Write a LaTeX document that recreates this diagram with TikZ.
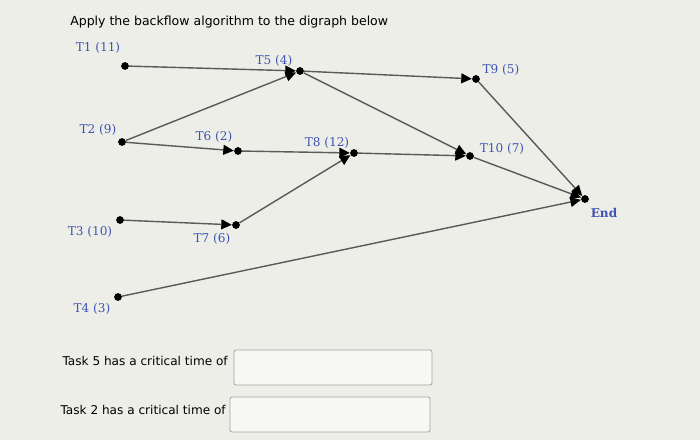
\documentclass[tikz,border=0pt]{standalone}
\usepackage{fontspec}
\setmainfont{DejaVu Sans}
\newfontfamily\labfont{DejaVu Serif}
\usetikzlibrary{arrows.meta}
\definecolor{screenbg}{RGB}{236,238,231}
\definecolor{labblue}{RGB}{62,84,178}
\definecolor{edgegray}{RGB}{90,90,90}

\tikzset{
  task/.style={circle,fill=black,inner sep=0pt,minimum size=5.5pt},
  tasklabel/.style={text=labblue,font=\labfont\fontsize{8.6}{10}\selectfont,inner sep=0pt},
  flow/.style={draw=edgegray,line width=1pt,-{Triangle[length=7.5pt,width=7pt,color=black]}},
  answerbox/.style={draw=gray!70,fill=white!60!screenbg,rounded corners=1.5pt,line width=0.6pt},
  prompt/.style={font=\fontsize{8.6}{10}\selectfont,anchor=east,inner sep=0pt}
}

\begin{document}
\begin{tikzpicture}[x={(0.025cm,0)},y={(0,-0.025cm)}]
  \fill[screenbg] (0,0) rectangle (700,440);
  \useasboundingbox (0,0) rectangle (700,440);
  \node[anchor=west,inner sep=0pt,font=\fontsize{8.9}{10}\selectfont] (title) at (70,22)
    {Apply the backflow algorithm to the digraph below};
  % tasks
  \node[task] (t1)  at (125,66)  {};
  \node[task] (t5)  at (300,71)  {};
  \node[task] (t9)  at (476,79)  {};
  \node[task] (t2)  at (122,142) {};
  \node[task] (t6)  at (238,151) {};
  \node[task] (t8)  at (354,153) {};
  \node[task] (t10) at (470,156) {};
  \node[task] (end) at (585,199) {};
  \node[task] (t3)  at (120,220) {};
  \node[task] (t7)  at (236,225) {};
  \node[task] (t4)  at (118,297) {};
  % labels
  \node[tasklabel] (lt1)  at (98,48)   {T1 (11)};
  \node[tasklabel] (lt5)  at (274,61)  {T5 (4)};
  \node[tasklabel] (lt9)  at (501,70)  {T9 (5)};
  \node[tasklabel] (lt2)  at (98,130)  {T2 (9)};
  \node[tasklabel] (lt6)  at (214,137) {T6 (2)};
  \node[tasklabel] (lt8)  at (327,143) {T8 (12)};
  \node[tasklabel] (lt10) at (502,149) {T10 (7)};
  \node[tasklabel] (lend) at (604,213) {\bfseries End};
  \node[tasklabel] (lt3)  at (90,232)  {T3 (10)};
  \node[tasklabel] (lt7)  at (212,239) {T7 (6)};
  \node[tasklabel] (lt4)  at (92,309)  {T4 (3)};
  % precedences
  \draw[flow] (t1) -- (t5);
  \draw[flow] (t2) -- (t5);
  \draw[flow] (t5) -- (t9);
  \draw[flow] (t5) -- (t10);
  \draw[flow] (t2) -- (t6);
  \draw[flow] (t6) -- (t8);
  \draw[flow] (t8) -- (t10);
  \draw[flow] (t3) -- (t7);
  \draw[flow] (t7) -- (t8);
  \draw[flow] (t9) -- (end);
  \draw[flow] (t10) -- (end);
  \draw[flow] (t4) -- (end);
  % questions
  \node[prompt] (q5) at (228,361) {Task 5 has a critical time of};
  \draw[answerbox] (234,350) rectangle (432,385);
  \node[prompt] (q2) at (226,410) {Task 2 has a critical time of};
  \draw[answerbox] (230,397) rectangle (430,432);
\end{tikzpicture}
\end{document}
